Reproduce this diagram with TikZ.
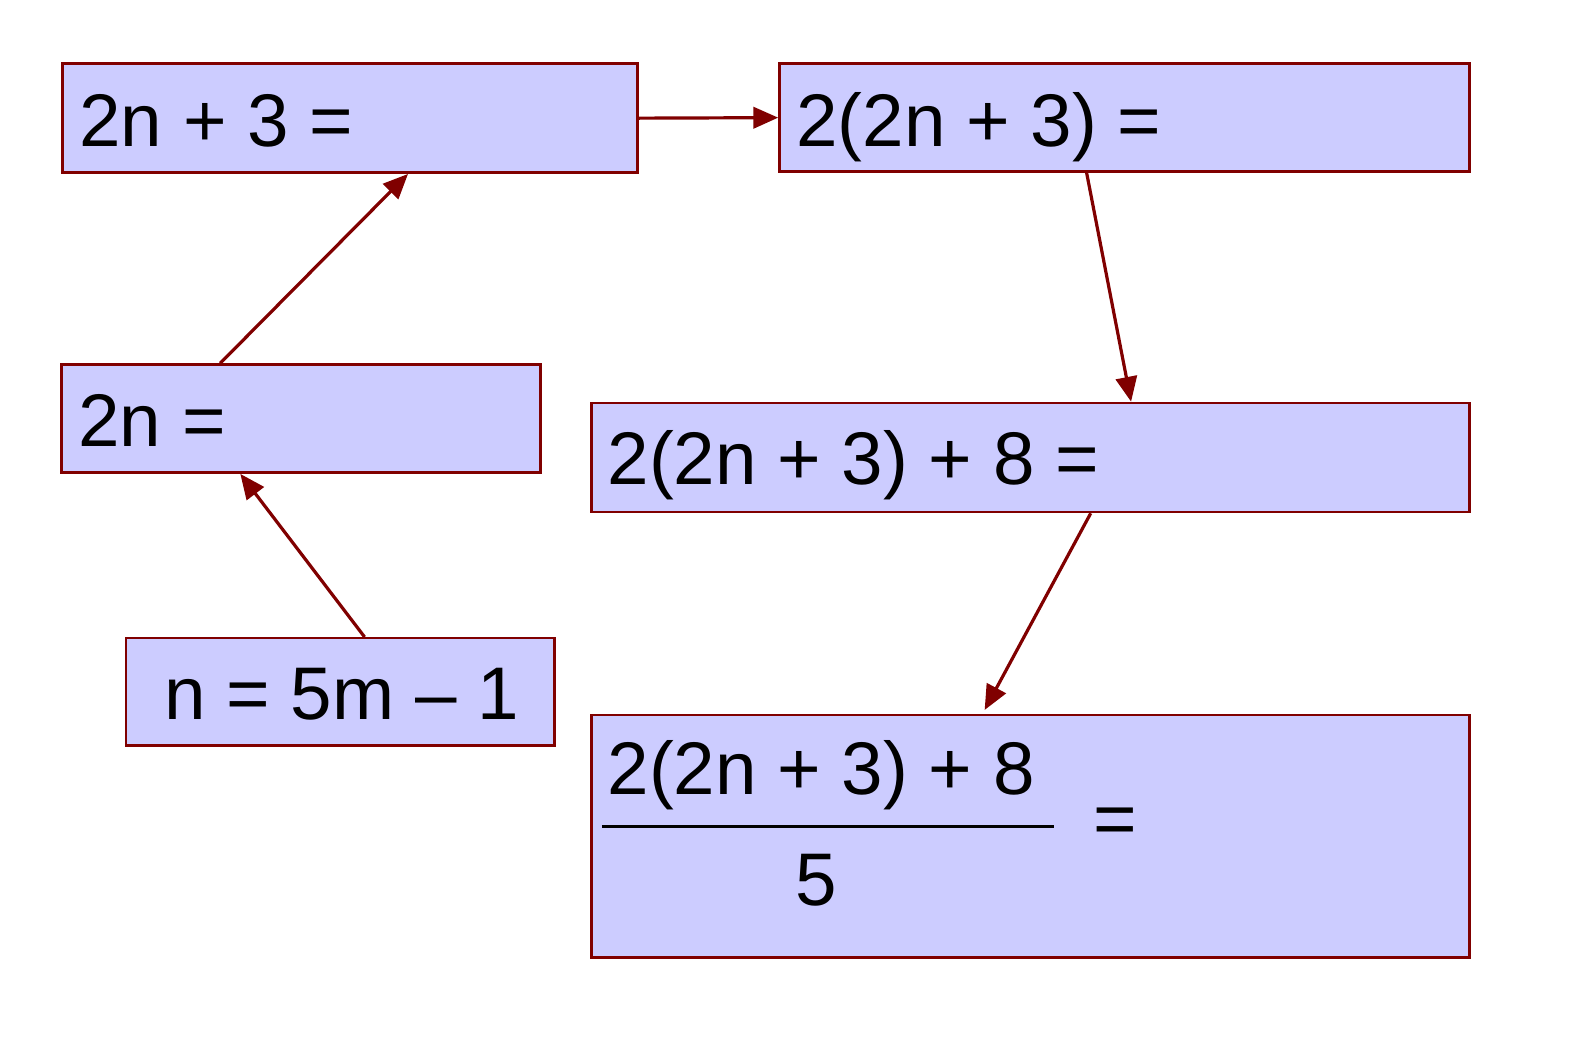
\documentclass[tikz,border=0pt]{standalone}
\usepackage{fontspec}
\setmainfont{Liberation Sans}
\usetikzlibrary{arrows.meta}
\definecolor{boxfill}{HTML}{CCCCFF}
\definecolor{boxline}{HTML}{800000}
\begin{document}
\begin{tikzpicture}[x=0.01cm,y=-0.01cm,
  box/.style={draw=boxline,fill=boxfill,line width=0.7pt,inner sep=0pt},
  txt/.style={anchor=base west,inner sep=0pt,font=\fontsize{21}{25}\selectfont},
  conn/.style={draw=boxline,line width=0.9pt,-{Triangle[length=7pt,width=6pt]}}]
\useasboundingbox (0,0) rectangle (1567.5,1040.7);
\node[box,minimum width=5.69cm,minimum height=1.08cm] (A) at (346.5,117) {};
\node[box,minimum width=6.83cm,minimum height=1.07cm] (B) at (1113.5,116.5) {};
\node[box,minimum width=4.74cm,minimum height=1.07cm] (C) at (298,414.5) {};
\node[box,minimum width=8.69cm,minimum height=1.08cm] (D) at (1020.5,453) {};
\node[box,minimum width=4.24cm,minimum height=1.06cm] (E) at (337,685) {};
\node[box,minimum width=8.69cm,minimum height=2.40cm] (F) at (1020.5,828) {};
\node[txt] (tA) at (78,145) {2n + 3 =};
\node[txt] (tB) at (788,145) {2(2n + 3) =};
\node[txt] (tC) at (77,442) {2n =};
\node[txt] (tD) at (601,480) {2(2n + 3) + 8 =};
\node[txt] (tE) at (162,712) {n = 5m – 1};
\node[txt] (tF1) at (601,787) {2(2n + 3) + 8};
\node[txt,anchor=base] (tF2) at (808,897) {5};
\node[txt,anchor=center] (tF3) at (1104,818) {=};
\coordinate (l1) at (596,818); \coordinate (l2) at (1044,818);
\draw[line width=0.9pt] (l1) -- (l2);
\draw[conn] (A.east) -- (B.west);
\draw[conn] (C.north -| 218,0) -- (A.south -| 404,0);
\draw[conn] (E.north -| 361,0) -- (C.south -| 238,0);
\draw[conn] (B.south -| 1076,0) -- (D.north -| 1120,0);
\coordinate (fin) at (975,703);
\draw[conn] (D.south -| 1080,0) -- (fin);
\end{tikzpicture}
\end{document}
